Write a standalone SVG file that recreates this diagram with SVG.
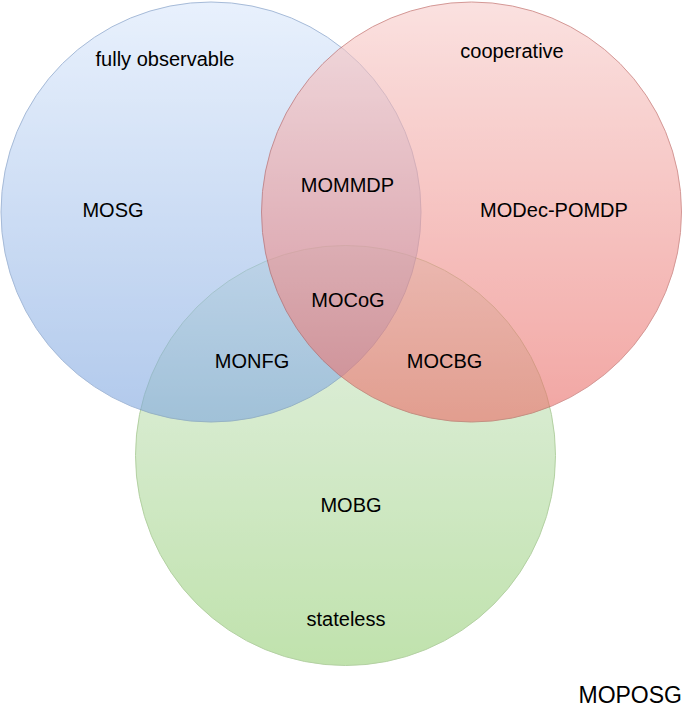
<svg xmlns="http://www.w3.org/2000/svg" width="685" height="709" viewBox="0 0 685 709">
<style>
.lbl{font-family:"Liberation Sans",Arial,Helvetica,sans-serif;font-size:20px;fill:#000;text-anchor:middle}
.c{opacity:0.6;stroke-width:1}
</style>
<defs>
<linearGradient id="gB" x1="0" y1="0" x2="0" y2="1"><stop offset="0" stop-color="#dae8fc"/><stop offset="1" stop-color="#7ea6e0"/></linearGradient>
<linearGradient id="gR" x1="0" y1="0" x2="0" y2="1"><stop offset="0" stop-color="#f8cecc"/><stop offset="1" stop-color="#ea6b66"/></linearGradient>
<linearGradient id="gG" x1="0" y1="0" x2="0" y2="1"><stop offset="0" stop-color="#d5e8d4"/><stop offset="1" stop-color="#97d077"/></linearGradient>
</defs>
<rect width="685" height="709" fill="#fff"/>
<g id="stateless-set"><circle class="c" cx="345.5" cy="455.5" r="210" fill="url(#gG)" stroke="#82b366"/></g>
<g id="fully-observable-set"><circle class="c" cx="211" cy="212" r="210" fill="url(#gB)" stroke="#6c8ebf"/></g>
<g id="cooperative-set"><circle class="c" cx="471.5" cy="212" r="210" fill="url(#gR)" stroke="#b85450"/></g>
<g id="connectors"></g>
<g id="labels">
<text class="lbl" x="165" y="66">fully observable</text>
<text class="lbl" x="512" y="58">cooperative</text>
<text class="lbl" x="113" y="217">MOSG</text>
<text class="lbl" x="347.5" y="192">MOMMDP</text>
<text class="lbl" x="554" y="217">MODec-POMDP</text>
<text class="lbl" x="348" y="306.5">MOCoG</text>
<text class="lbl" x="252" y="367.5">MONFG</text>
<text class="lbl" x="444.5" y="367.5">MOCBG</text>
<text class="lbl" x="351" y="512">MOBG</text>
<text class="lbl" x="346" y="626">stateless</text>
<text class="lbl" x="682" y="703" style="font-size:23px;text-anchor:end">MOPOSG</text>
</g>
</svg>
